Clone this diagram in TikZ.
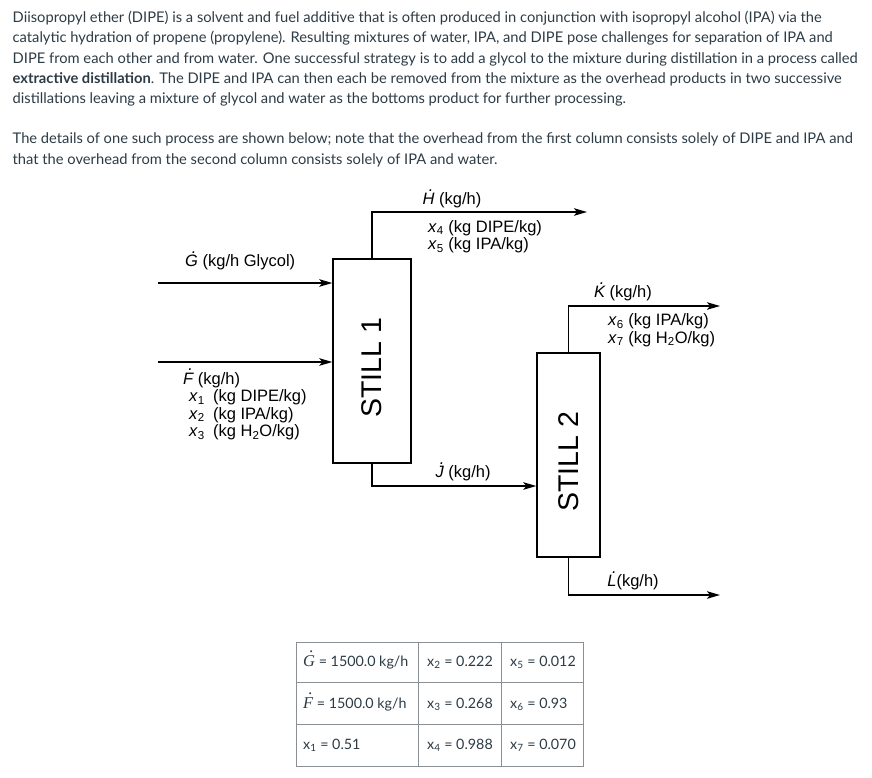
\documentclass[tikz,border=0pt]{standalone}
\usepackage{fontspec}
\setmainfont{Lato}
\setsansfont{Liberation Sans}
\newfontfamily\tabserif{Liberation Serif}
\usetikzlibrary{arrows.meta}
\definecolor{txt}{HTML}{2D3B45}
\definecolor{rule}{HTML}{8A8F94}
\newcommand\dt[1]{\textit{\ooalign{#1\cr\hidewidth\kern.3em\raisebox{.8em}{.}\hidewidth\cr}}}
\newcommand\xs[1]{\textit{x}\textsubscript{#1}}
\tikzset{
  para/.style={anchor=base west, inner sep=0pt, text=txt, font=\fontsize{14.7}{17}\selectfont},
  lbl/.style={inner sep=0pt, font=\sffamily\fontsize{16.5}{17.5}\selectfont},
  stillbox/.style={draw, line width=1.4pt, minimum width=#1, minimum height=204pt, inner sep=0pt},
  flow/.style={line width=1.6pt, -{Stealth[length=13pt, width=7.5pt, inset=3pt]}},
  cell/.style={anchor=west, inner sep=0pt, text=txt, font=\fontsize{14.3}{17}\selectfont}
}
\begin{document}
\begin{tikzpicture}[x=1pt, y=-1pt]
    \useasboundingbox (0,0) rectangle (872,778);
    \foreach \tline [count=\i from 0] in {
        {Diisopropyl ether (DIPE) is a solvent and fuel additive that is often produced in conjunction with isopropyl alcohol (IPA) via the},
        {catalytic hydration of propene (propylene). Resulting mixtures of water, IPA, and DIPE pose challenges for separation of IPA and},
        {DIPE from each other and from water. One successful strategy is to add a glycol to the mixture during distillation in a process called},
        {\textbf{extractive distillation}. The DIPE and IPA can then each be removed from the mixture as the overhead products in two successive},
        {distillations leaving a mixture of glycol and water as the bottoms product for further processing.}}
    {
        \node[para] (p\i) at (12.5,22.7+20.2*\i) {\tline};
    }
    \foreach \tline [count=\i from 0] in {
        {The details of one such process are shown below; note that the overhead from the first column consists solely of DIPE and IPA and},
        {that the overhead from the second column consists solely of IPA and water.}}
    {
        \node[para] (q\i) at (12.5,144+20.2*\i) {\tline};
    }
    \node[stillbox=78pt] (s1) at (372,361) {};
    \node[stillbox=63pt] (s2) at (568.5,455) {};
    \node[rotate=90, font=\sffamily\fontsize{28.5}{28.5}\selectfont] (s1t) at ([yshift=-7pt]s1.center) {STILL 1};
    \node[rotate=90, font=\sffamily\fontsize{28.5}{28.5}\selectfont] (s2t) at ([yshift=-7pt]s2.center) {STILL 2};
    \coordinate (gin) at (158,283);
    \coordinate (fin) at (158,362);
    \coordinate (hout) at (587,212);
    \coordinate (jy) at (0,486);
    \coordinate (kout) at (720,306);
    \coordinate (lout) at (720,595);
    \draw[flow] (gin) -- (gin -| s1.west);
    \draw[flow] (fin) -- (fin -| s1.west);
    \draw[flow] (s1.north) |- (hout);
    \draw[flow] (s1.south) |- (s2.west |- jy);
    \draw[flow] (s2.north) |- (kout);
    \draw[flow] (s2.south) |- (lout);
    \node[lbl] (hl) at (452,200) {\dt{H} (kg/h)};
    \node[lbl, anchor=west, align=left] (hx) at (428,236.5) {\xs{4} (kg DIPE/kg)\\ \xs{5} (kg IPA/kg)};
    \node[lbl, anchor=west] (gl) at (185,262) {\dt{G} (kg/h Glycol)};
    \node[lbl, anchor=west, align=left] (fl) at (183,406)
        {\dt{F} (kg/h)\\ \hspace{6pt}\xs{1}\enspace(kg DIPE/kg)\\ \hspace{6pt}\xs{2}\enspace(kg IPA/kg)\\ \hspace{6pt}\xs{3}\enspace(kg H\textsubscript{2}O/kg)};
    \node[lbl] (jl) at (463,473) {\dt{J} (kg/h)};
    \node[lbl] (kl) at (623,293) {\dt{K} (kg/h)};
    \node[lbl, anchor=west, align=left] (kx) at (608,330) {\xs{6} (kg IPA/kg)\\ \xs{7} (kg H\textsubscript{2}O/kg)};
    \node[lbl] (ll) at (633,582) {\dt{L}(kg/h)};
    \draw[rule, line width=1pt] (296,642) rectangle (583,766);
    \foreach \x in {418,501}
    {
        \draw[rule, line width=1pt] (\x,642)--(\x,766);
    }
    \foreach \y in {682,724}
    {
        \draw[rule, line width=1pt] (296,\y)--(583,\y);
    }
    \node[cell] (c11) at (303,662) {{\tabserif\fontsize{16.5}{17}\selectfont\dt{G}} = 1500.0 kg/h};
    \node[cell] (c21) at (303,704) {{\tabserif\fontsize{16.5}{17}\selectfont\dt{F}} = 1500.0 kg/h};
    \node[cell] (c31) at (303,745) {x\textsubscript{1} = 0.51};
    \node[cell] (c12) at (427,662) {x\textsubscript{2} = 0.222};
    \node[cell] (c22) at (427,704) {x\textsubscript{3} = 0.268};
    \node[cell] (c32) at (427,745) {x\textsubscript{4} = 0.988};
    \node[cell] (c13) at (510,662) {x\textsubscript{5} = 0.012};
    \node[cell] (c23) at (510,704) {x\textsubscript{6} = 0.93};
    \node[cell] (c33) at (510,745) {x\textsubscript{7} = 0.070};
\end{tikzpicture}
\end{document}
